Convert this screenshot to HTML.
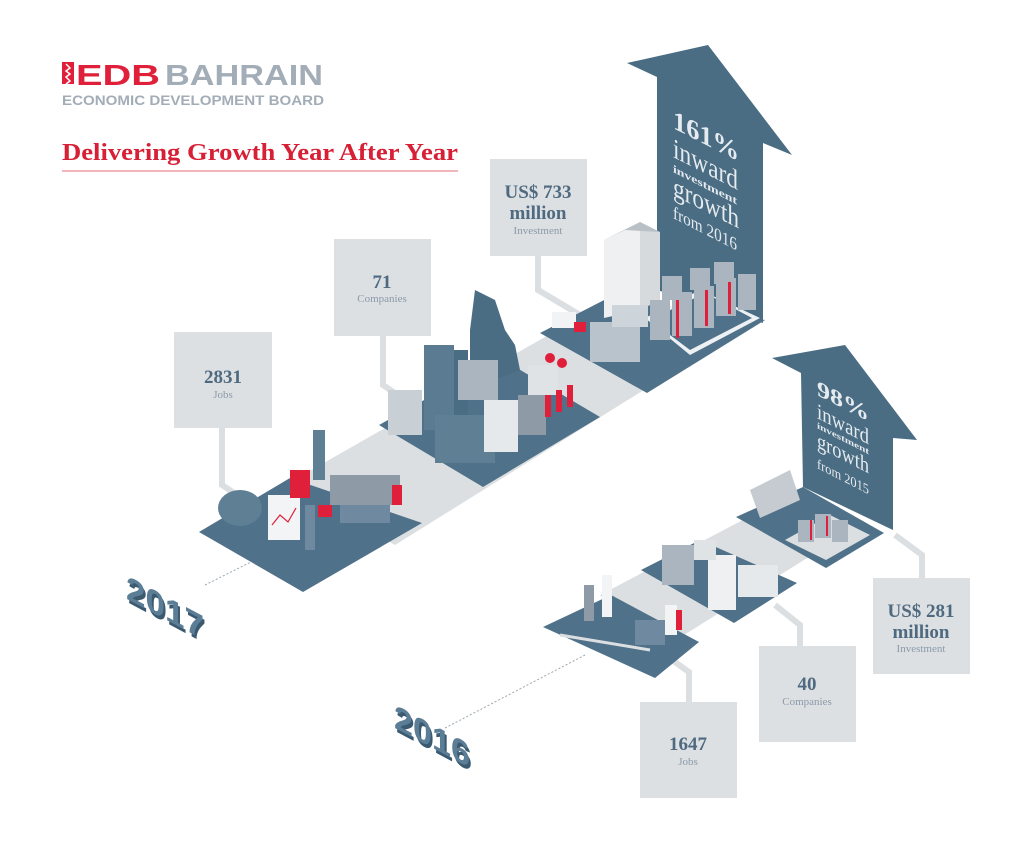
<!DOCTYPE html>
<html><head><meta charset="utf-8"><style>
html,body{margin:0;padding:0;background:#fff;}
svg{display:block;}
.serif{font-family:"Liberation Serif",serif;}
.sans{font-family:"Liberation Sans",sans-serif;}
</style></head><body>
<svg width="1024" height="860" viewBox="0 0 1024 860" xmlns="http://www.w3.org/2000/svg">
<rect width="1024" height="860" fill="#fff"/>
<!-- Logo -->
<rect x="62" y="62" width="12" height="22" fill="#e0203a"/>
<path d="M66 64 l4 4 -4 3 4 3 -4 3 4 4 -4 3" fill="none" stroke="#fff" stroke-width="1.5"/>
<text x="76" y="85" class="sans" font-weight="bold" font-size="29" fill="#e0203a" textLength="84" lengthAdjust="spacingAndGlyphs">EDB</text>
<text x="165" y="85" class="sans" font-weight="bold" font-size="29" fill="#a3adb7" textLength="158" lengthAdjust="spacingAndGlyphs">BAHRAIN</text>
<text x="62" y="105" class="sans" font-weight="bold" font-size="13.5" fill="#a3adb7" textLength="262" lengthAdjust="spacingAndGlyphs">ECONOMIC DEVELOPMENT BOARD</text>
<text x="62" y="160" class="serif" font-weight="bold" font-size="24" fill="#d71f35" textLength="396" lengthAdjust="spacingAndGlyphs">Delivering Growth Year After Year</text>
<line x1="62" y1="171" x2="458" y2="171" stroke="#e88a95" stroke-width="1.2"/>

<!-- road bands -->
<polygon points="285,485 610,300 700,355 395,545" fill="#dcdfe2"/>
<polygon points="600,595 800,490 860,525 660,650" fill="#dcdfe2"/>

<!-- connector lines -->
<g stroke="#dcdfe2" stroke-width="6" fill="none">
<polyline points="222,428 222,485 245,500"/>
<polyline points="383,336 383,385 405,400"/>
<polyline points="538,256 538,290 580,315"/>
<polyline points="689,702 689,672 665,655"/>
<polyline points="800,646 800,625 775,605"/>
<polyline points="922,578 922,555 895,535"/>
</g>

<!-- dashed lines -->
<line x1="205" y1="585" x2="255" y2="560" stroke="#9aa6b0" stroke-dasharray="2,2"/>
<line x1="445" y1="728" x2="585" y2="655" stroke="#9aa6b0" stroke-dasharray="2,2"/>

<!-- Top arrow 2017 -->
<polygon points="657,77 627,63 708,45 792,155 763,143 763,323 657,290" fill="#4a6d84"/>
<polygon points="540,333 610,297 765,320 647,393" fill="#4f7189"/>
<polygon points="645,318 700,290 760,318 690,355" fill="#ffffff" opacity="0.9"/>
<polygon points="650,320 705,293 752,318 690,350" fill="#4f7189"/>
<polygon points="604,240 640,222 640,310 604,318" fill="#eef0f2"/>
<polygon points="640,222 660,232 660,300 640,310" fill="#d6dadd"/>
<polygon points="604,240 625,230 660,232 640,222" fill="#b9c0c6"/>
<g fill="#aab5bf">
<rect x="650" y="300" width="20" height="40"/><rect x="672" y="292" width="20" height="44"/><rect x="694" y="286" width="20" height="42"/><rect x="716" y="278" width="20" height="38"/><rect x="738" y="274" width="18" height="36"/>
<rect x="662" y="276" width="20" height="24"/><rect x="690" y="268" width="20" height="22"/><rect x="714" y="262" width="20" height="22"/>
</g>
<g fill="#e0203a"><rect x="676" y="300" width="3" height="38"/><rect x="705" y="290" width="3" height="36"/><rect x="728" y="282" width="3" height="32"/></g>
<rect x="590" y="322" width="50" height="40" fill="#b9c3cc"/>
<rect x="612" y="305" width="36" height="22" fill="#cdd4da"/>
<rect x="552" y="312" width="24" height="16" fill="#f2f3f4"/>
<rect x="574" y="322" width="12" height="10" fill="#e0203a"/>

<!-- city platform 2017 -->
<polygon points="379,425 500,358 600,417 483,487" fill="#4f7189"/>
<polygon points="475,290 495,300 505,330 515,345 520,370 470,390 470,330" fill="#4a6d84"/>
<rect x="424" y="345" width="30" height="85" fill="#5a7b92"/>
<rect x="454" y="350" width="14" height="80" fill="#4a6d84"/>
<rect x="388" y="390" width="34" height="45" fill="#c8cfd5"/>
<rect x="458" y="360" width="40" height="40" fill="#aab5bf"/>
<rect x="435" y="415" width="60" height="48" fill="#5f7f95"/>
<rect x="484" y="400" width="34" height="52" fill="#e6e9ec"/>
<rect x="518" y="395" width="28" height="40" fill="#8e9ba7"/>
<rect x="528" y="365" width="30" height="30" fill="#dfe3e6"/>
<g fill="#e0203a"><circle cx="550" cy="358" r="5"/><circle cx="562" cy="363" r="5"/><rect x="545" y="395" width="6" height="22"/><rect x="556" y="390" width="6" height="22"/><rect x="567" y="385" width="6" height="22"/></g>

<!-- office platform 2017 -->
<polygon points="199,532 290,478 422,523 303,592" fill="#4f7189"/>
<ellipse cx="240" cy="508" rx="22" ry="18" fill="#5f7f95"/>
<rect x="268" y="495" width="32" height="45" fill="#f3f4f5"/>
<polyline points="272,525 280,515 288,522 296,508" fill="none" stroke="#e0203a" stroke-width="1.2"/>
<rect x="290" y="470" width="20" height="28" fill="#e0203a"/>
<rect x="313" y="430" width="12" height="50" fill="#5f7f95"/>
<rect x="305" y="505" width="10" height="45" fill="#6f8aa0"/>
<rect x="330" y="475" width="70" height="30" fill="#8e9ba7"/>
<rect x="340" y="505" width="50" height="18" fill="#6f8aa0"/>
<rect x="392" y="485" width="10" height="20" fill="#e0203a"/>
<rect x="318" y="505" width="14" height="12" fill="#e0203a"/>

<!-- second arrow 2016 -->
<polygon points="801,373 772,358 845,345 917,440 893,438 893,530 803,487" fill="#4a6d84"/>
<polygon points="736,517 803,487 884,533 826,568" fill="#4f7189"/>
<polygon points="785,540 830,515 870,535 826,560" fill="#dcdfe2"/>
<g fill="#aab5bf"><rect x="798" y="520" width="16" height="22"/><rect x="815" y="514" width="16" height="24"/><rect x="832" y="520" width="16" height="22"/></g>
<g fill="#e0203a"><rect x="810" y="520" width="2" height="20"/><rect x="826" y="516" width="2" height="20"/></g>
<polygon points="750,490 790,470 800,500 760,518" fill="#c5cbd0"/>
<polygon points="641,570 700,540 797,583 734,623" fill="#4f7189"/>
<rect x="662" y="545" width="32" height="40" fill="#aab5bf"/>
<rect x="708" y="555" width="28" height="55" fill="#eef0f2"/>
<rect x="738" y="565" width="40" height="32" fill="#e6e9ec"/>
<rect x="694" y="540" width="22" height="20" fill="#dfe3e6"/>
<polygon points="543,627 611,595 699,642 655,678" fill="#4f7189"/>
<line x1="560" y1="635" x2="650" y2="650" stroke="#dcdfe2" stroke-width="3"/>
<rect x="584" y="585" width="10" height="36" fill="#8e9ba7"/>
<rect x="602" y="575" width="10" height="42" fill="#f3f4f5"/>
<rect x="635" y="620" width="30" height="25" fill="#6f8aa0"/>
<rect x="665" y="605" width="12" height="30" fill="#f3f4f5"/>
<rect x="676" y="610" width="6" height="20" fill="#e0203a"/>

<!-- Boxes -->
<g fill="#dde0e3">
<rect x="174" y="332" width="98" height="96"/>
<rect x="334" y="239" width="97" height="97"/>
<rect x="490" y="159" width="97" height="97"/>
<rect x="873" y="578" width="97" height="96"/>
<rect x="759" y="646" width="97" height="96"/>
<rect x="640" y="702" width="97" height="96"/>
</g>
<g class="serif" text-anchor="middle">
<text x="223" y="383" font-size="19" font-weight="bold" fill="#4f6a80">2831</text>
<text x="223" y="398" font-size="11" fill="#8a9aa8">Jobs</text>
<text x="382" y="288" font-size="19" font-weight="bold" fill="#4f6a80">71</text>
<text x="382" y="302" font-size="11" fill="#8a9aa8">Companies</text>
<text x="538" y="198" font-size="19" font-weight="bold" fill="#4f6a80">US$ 733</text>
<text x="538" y="219" font-size="19" font-weight="bold" fill="#4f6a80">million</text>
<text x="538" y="234" font-size="11" fill="#8a9aa8">Investment</text>
<text x="921" y="617" font-size="19" font-weight="bold" fill="#4f6a80">US$ 281</text>
<text x="921" y="638" font-size="19" font-weight="bold" fill="#4f6a80">million</text>
<text x="921" y="652" font-size="11" fill="#8a9aa8">Investment</text>
<text x="807" y="690" font-size="19" font-weight="bold" fill="#4f6a80">40</text>
<text x="807" y="705" font-size="11" fill="#8a9aa8">Companies</text>
<text x="688" y="750" font-size="19" font-weight="bold" fill="#4f6a80">1647</text>
<text x="688" y="765" font-size="11" fill="#8a9aa8">Jobs</text>
</g>

<!-- arrow texts (isometric skew) -->
<g class="serif" fill="#e6ebef" transform="translate(673,0) skewY(27)">
<text x="0" y="128" font-size="27" font-weight="bold" textLength="66" lengthAdjust="spacingAndGlyphs">161%</text>
<text x="0" y="157" font-size="28" textLength="65" lengthAdjust="spacingAndGlyphs">inward</text>
<text x="0" y="172" font-size="11" font-weight="bold" textLength="64" lengthAdjust="spacingAndGlyphs">investment</text>
<text x="0" y="195" font-size="28" textLength="66" lengthAdjust="spacingAndGlyphs">growth</text>
<text x="0" y="218" font-size="18" textLength="64" lengthAdjust="spacingAndGlyphs">from 2016</text>
</g>
<g class="serif" fill="#e6ebef" transform="translate(817,0) skewY(27)">
<text x="0" y="395" font-size="22" font-weight="bold" textLength="52" lengthAdjust="spacingAndGlyphs">98%</text>
<text x="0" y="418" font-size="22" textLength="52" lengthAdjust="spacingAndGlyphs">inward</text>
<text x="0" y="428" font-size="9" font-weight="bold" textLength="52" lengthAdjust="spacingAndGlyphs">investment</text>
<text x="0" y="447" font-size="22" textLength="52" lengthAdjust="spacingAndGlyphs">growth</text>
<text x="0" y="468" font-size="14" textLength="52" lengthAdjust="spacingAndGlyphs">from 2015</text>
</g>

<!-- years -->
<g class="sans" font-weight="bold" font-size="34">
<g transform="translate(127,0) skewY(28)"><text x="1" y="602" fill="#3b5a70" textLength="78" lengthAdjust="spacingAndGlyphs">2017</text><text x="-1" y="599" fill="#5b7d95" textLength="78" lengthAdjust="spacingAndGlyphs">2017</text></g>
<g transform="translate(395,0) skewY(28)"><text x="1" y="731" fill="#3b5a70" textLength="76" lengthAdjust="spacingAndGlyphs">2016</text><text x="-1" y="728" fill="#5b7d95" textLength="76" lengthAdjust="spacingAndGlyphs">2016</text></g>
</g>
</svg>
</body></html>
